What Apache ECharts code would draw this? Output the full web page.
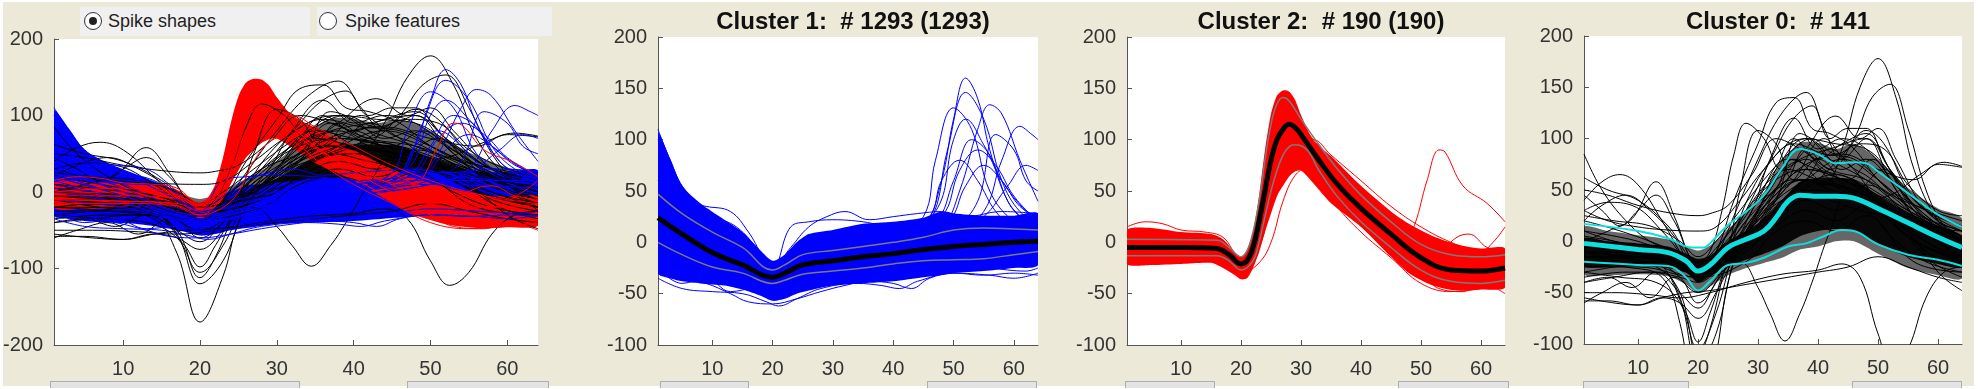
<!DOCTYPE html>
<html>
<head>
<meta charset="utf-8">
<title>Spike sorting clusters</title>
<script src="https://cdn.jsdelivr.net/npm/echarts@6/dist/echarts.min.js"></script>
<style>
  html, body { margin: 0; padding: 0; background: #fff; }
  #frame { position: absolute; left: 3px; top: 2px; width: 1971px; height: 384px; background: #ECE9D8; }
  #chart { position: absolute; left: 0; top: 0; width: 1979px; height: 389px; }
  .radio { position: absolute; top: 7px; height: 29px; background: #F0F0F0; z-index: 2;
           font: 18px "Liberation Sans", Arial, sans-serif; color: #1e1e1e; line-height: 29px; }
  .radio .ring { position: absolute; top: 5px; width: 18px; height: 18px; border-radius: 50%;
                 border: 1px solid #333; background: #fff; box-sizing: border-box; }
  .radio .ring.on::after { content: ''; position: absolute; left: 4px; top: 4px; width: 8px; height: 8px;
                           border-radius: 50%; background: #222; }
  .radio span.txt { position: absolute; top: 0; }
  .bar { position: absolute; top: 381px; height: 6px; background: #E4E4E4; border: 1px solid #ADADAD;
         border-bottom: none; z-index: 2; }
</style>
</head>
<body>
<div id="frame"></div>
<div id="chart"></div>

<div class="radio" style="left:80px;width:230px"><div class="ring on" style="left:4px"></div><span class="txt" style="left:28px">Spike shapes</span></div>
<div class="radio" style="left:317px;width:235px"><div class="ring" style="left:2px"></div><span class="txt" style="left:28px">Spike features</span></div>

<div class="bar" style="left:50px;width:248px"></div>
<div class="bar" style="left:407px;width:140px"></div>
<div class="bar" style="left:660px;width:87px"></div>
<div class="bar" style="left:927px;width:108px"></div>
<div class="bar" style="left:1125px;width:88px"></div>
<div class="bar" style="left:1398px;width:109px"></div>
<div class="bar" style="left:1583px;width:104px"></div>
<div class="bar" style="left:1852px;width:108px"></div>

<script>
// ---- data (sample index, amplitude) ----
const sampleTicks = [10, 20, 30, 40, 50, 60];
const panelTitles = ['', 'Cluster 1:  # 1293 (1293)', 'Cluster 2:  # 190 (190)', 'Cluster 0:  # 141'];

// cluster 1 (blue): dense core envelope
const band1X  = [1, 3, 5, 8, 12, 15, 18, 20, 22, 24, 26, 30, 35, 40, 45, 48, 50, 55, 60, 64];
const band1Hi = [106, 82, 55, 38, 22, 10, -8, -18, -12, 0, 8, 12, 18, 20, 24, 30, 28, 26, 26, 28];
const band1Lo = [-30, -35, -38, -40, -42, -46, -52, -57, -55, -50, -47, -42, -40, -38, -34, -32, -30, -28, -25, -22];
const c1Mean  = [[1,24],[5,8],[10,-10],[15,-22],[20,-34],[22,-30],[25,-22],[30,-18],[35,-14],[40,-11],[45,-7],[50,-4],[55,-2],[60,0],[64,1]];
const c1StdHi = [[1,47],[5,28],[10,10],[15,-5],[20,-27],[22,-22],[25,-12],[30,-8],[35,-4],[40,0],[45,5],[50,12],[55,14],[60,13],[64,12]];
const c1StdLo = [[1,0],[5,-12],[10,-24],[15,-30],[20,-40],[22,-37],[25,-31],[30,-28],[35,-25],[40,-21],[45,-18],[50,-17],[55,-16],[60,-12],[64,-9]];
const c1Spikes = [
  [[1,30],[10,0],[20,-30],[30,-10],[40,5],[45,15],[48,60],[50,120],[52,160],[54,140],[56,90],[59,40],[62,20],[64,15]],
  [[1,20],[10,-5],[20,-35],[30,-15],[40,0],[46,20],[49,90],[52,146],[55,120],[58,60],[61,30],[64,20]],
  [[1,40],[10,5],[20,-30],[30,-12],[40,8],[45,25],[47,80],[50,131],[53,110],[56,50],[60,20],[64,10]],
  [[1,10],[10,-10],[20,-38],[30,-20],[40,-5],[48,15],[51,50],[54,110],[56,134],[58,125],[61,80],[64,40]],
  [[1,0],[10,-15],[20,-40],[30,-20],[40,-5],[50,10],[55,30],[58,80],[61,113],[63,105],[64,100]],
  [[1,25],[10,-5],[20,-32],[30,-15],[40,5],[47,20],[50,60],[53,100],[56,85],[59,40],[62,20],[64,10]],
  [[1,15],[10,-10],[20,-35],[30,-15],[40,0],[48,25],[51,70],[54,90],[57,75],[60,45],[64,20]],
  [[1,35],[10,0],[20,-30],[30,-10],[40,5],[46,25],[48,60],[51,80],[54,60],[57,30],[60,15],[64,10]],
  [[1,5],[10,-15],[20,-38],[30,-18],[40,0],[50,15],[54,40],[57,105],[60,90],[62,60],[64,50]],
  [[1,20],[10,-5],[20,-35],[30,-15],[40,0],[49,20],[52,55],[55,75],[58,60],[61,35],[64,25]],
  [[1,-10],[10,-20],[20,-40],[30,-20],[40,-5],[50,10],[55,25],[59,55],[62,75],[64,70]],
  [[1,45],[10,10],[20,-25],[30,-5],[40,10],[47,30],[50,100],[52,120],[55,95],[58,60],[62,30],[64,20]],
  [[1,60],[5,40],[9,35],[13,30],[16,10],[20,-25],[23,15],[26,20],[30,22],[35,20],[40,15],[50,20],[64,10]],
  [[1,-30],[5,-35],[9,-40],[13,-50],[16,-58],[20,-60],[24,-55],[28,-48],[32,-42],[36,-38],[40,-40],[43,-45],[46,-35],[50,-30],[55,-32],[60,-30],[64,-32]],
  [[1,-25],[5,-40],[9,-35],[13,-48],[17,-45],[20,-50],[24,-48],[30,-38],[38,-35],[44,-30],[50,-22],[56,-25],[62,-28],[64,-25]],
  [[1,110],[3,80],[5,55],[8,35],[12,15],[16,-5],[20,-25],[25,-10],[30,0],[40,10],[50,15],[64,15]],
  [[1,100],[3,75],[6,45],[10,25],[14,5],[18,-15],[20,-28],[25,-15],[30,-5],[40,5],[50,10],[64,5]],
  [[1,50],[6,35],[10,25],[14,15],[18,-10],[20,-25],[23,-5],[26,15],[29,25],[32,30],[36,22],[40,25],[44,28],[48,30],[52,25],[58,30],[64,28]],
  [[1,-35],[5,-45],[10,-48],[15,-50],[19,-58],[21,-62],[24,-55],[28,-45],[34,-40],[38,-42],[41,-45],[44,-38],[50,-30],[56,-32],[60,-35],[64,-30]]
];

// cluster 2 (red)
const band2X  = [1, 5, 10, 15, 17, 19, 20, 21, 22, 23, 24, 25, 26, 27, 28, 29, 30, 32, 35, 40, 45, 48, 52, 56, 60, 64];
const band2Hi = [12, 14, 10, 8, 3, -10, -14, -8, 10, 45, 90, 125, 143, 148, 147, 139, 124, 100, 84, 55, 30, 18, 6, -2, -6, -6];
const band2Lo = [-21, -22, -21, -20, -25, -32, -36, -35, -25, -10, 10, 28, 45, 55, 64, 69, 70, 58, 38, 15, -14, -30, -42, -47, -46, -44];
const c2Mean  = [[1,-5],[10,-5],[16,-6],[18,-12],[20,-21],[21,-18],[22,-5],[23,20],[24,50],[25,80],[26,100],[27,110],[28,115],[29,112],[30,105],[33,80],[36,57],[40,33],[45,8],[50,-15],[55,-27],[60,-28],[64,-25]];
const c2StdHi = [[1,3],[16,2],[18,-5],[20,-14],[21,-8],[22,10],[23,40],[24,80],[25,115],[26,135],[27,141],[28,138],[30,120],[33,95],[36,72],[40,46],[45,20],[50,-2],[55,-12],[60,-14],[64,-12]];
const c2StdLo = [[1,-13],[16,-13],[18,-18],[20,-27],[22,-18],[23,0],[24,25],[25,50],[26,70],[27,85],[28,93],[29,95],[31,90],[33,70],[36,45],[40,20],[45,-5],[50,-27],[55,-38],[60,-40],[64,-37]];
const c2Spikes = [
  [[1,-5],[10,-5],[17,-8],[20,-20],[22,0],[24,50],[26,95],[28,110],[30,100],[35,60],[40,30],[45,12],[48,10],[49,18],[51,60],[53,90],[54,88],[57,55],[61,38],[64,20]],
  [[1,-15],[10,-15],[17,-18],[20,-30],[23,-5],[25,40],[27,90],[29,105],[32,85],[36,50],[40,20],[45,-10],[50,-30],[53,-45],[57,-48],[60,-40],[64,-50]],
  [[1,15],[4,20],[7,18],[10,12],[14,10],[17,5],[20,-15],[22,-5],[24,60],[26,120],[28,130],[30,115],[35,80],[40,50],[45,25],[50,0],[55,-15],[60,-20],[64,-15]],
  [[1,-10],[10,-12],[17,-15],[20,-25],[23,5],[25,60],[27,105],[29,100],[33,70],[38,40],[45,0],[50,-15],[53,-10],[56,5],[58,8],[61,-5],[64,-10]],
  [[1,-2],[10,0],[17,-5],[20,-22],[23,15],[25,70],[27,115],[29,110],[33,80],[40,35],[46,5],[52,-20],[58,-20],[62,0],[64,15]],
  [[1,-10],[10,-12],[16,-15],[20,-30],[23,-20],[25,0],[27,40],[29,65],[31,72],[33,60],[36,35],[40,10],[45,-15],[50,-40],[55,-48],[60,-45],[64,-40]],
  [[1,0],[10,5],[16,0],[20,-15],[23,10],[25,50],[27,80],[30,95],[32,100],[35,85],[40,60],[45,35],[50,15],[55,0],[60,-10],[64,-15]]
];

// cluster 0 (black, unassigned): solid core and a looser halo
const band0X  = [1, 5, 10, 15, 18, 20, 22, 25, 28, 31, 34, 37, 40, 43, 46, 50, 55, 60, 64];
const band0Hi = [3, 0, -2, -5, -12, -17, -14, 0, 10, 22, 40, 58, 62, 62, 60, 45, 28, 15, 5];
const band0Lo = [-24, -25, -24, -26, -30, -40, -34, -24, -18, -12, -5, 5, 10, 12, 10, -2, -15, -22, -25];
const halo0Hi = [14, 10, 6, 2, -5, -9, -4, 12, 28, 48, 78, 96, 96, 90, 95, 80, 52, 32, 22];
const halo0Lo = [-32, -33, -32, -34, -42, -50, -44, -33, -26, -21, -16, -8, -5, 0, 0, -12, -26, -33, -36];
const c0Mean  = [[1,-2],[10,-8],[15,-11],[18,-19],[20,-29],[22,-23],[25,-6],[28,2],[31,10],[33,23],[35,39],[37,45],[40,44],[43,44],[46,42],[50,32],[55,18],[60,4],[64,-6]];
const c0StdHi = [[1,17],[10,10],[15,3],[19,-6],[21,-6],[22,-2],[25,16],[28,29],[31,45],[34,71],[37,90],[40,85],[43,76],[46,77],[48,76],[50,68],[55,47],[60,26],[64,14]];
const c0StdLo = [[1,-20],[10,-23],[15,-24],[18,-35],[20,-48],[22,-39],[25,-23],[28,-21],[31,-16],[35,-5],[38,-2],[41,5],[44,11],[46,10],[50,-3],[55,-13],[60,-18],[64,-24]];
const c0Spikes = [
  [[1,10],[6,0],[12,-8],[17,-15],[20,-30],[23,-15],[28,0],[33,40],[37,60],[41,55],[44,90],[47,150],[50,178],[53,140],[56,70],[60,20],[64,0]],
  [[1,-5],[8,-10],[14,-12],[20,-30],[25,-5],[30,20],[35,60],[38,90],[42,70],[46,100],[49,140],[52,153],[55,110],[58,50],[61,15],[64,0]],
  [[1,30],[5,38],[9,35],[14,10],[18,-20],[20,-38],[23,-15],[26,25],[30,80],[34,125],[38,145],[41,110],[44,80],[48,100],[52,60],[57,20],[64,10]],
  [[1,0],[8,-8],[15,-12],[20,-30],[23,-10],[26,40],[30,95],[33,135],[36,140],[39,110],[42,105],[46,90],[50,60],[56,30],[64,5]],
  [[1,-10],[8,-14],[15,-18],[20,-35],[24,-10],[28,30],[33,90],[36,120],[39,132],[42,100],[45,110],[48,110],[51,80],[56,30],[64,-10]],
  [[1,20],[6,12],[12,0],[17,-12],[20,-20],[22,-10],[24,30],[26,85],[28,115],[31,100],[34,70],[38,80],[42,60],[48,40],[55,10],[64,-20]],
  [[1,-30],[6,-25],[12,-20],[17,-35],[20,-60],[23,-40],[25,-10],[27,50],[30,108],[33,95],[36,60],[40,80],[45,50],[50,30],[56,0],[64,-20]],
  [[1,-10],[8,-15],[15,-18],[20,-30],[26,-10],[30,0],[35,40],[40,60],[45,90],[48,108],[51,95],[55,50],[60,20],[64,10]],
  [[1,-40],[6,-35],[12,-30],[17,-35],[20,-40],[24,-25],[27,-20],[30,-45],[32,-70],[34.5,-97],[37,-70],[39,-40],[42,10],[45,45],[48,40],[52,20],[56,0],[60,-10],[64,-20]],
  [[1,-50],[6,-50],[12,-52],[17,-55],[22,-50],[28,-40],[34,-32],[40,-28],[44,-22],[47,-35],[50,-90],[52.5,-122],[55,-105],[58,-55],[61,-30],[64,-25]],
  [[1,-20],[8,-25],[14,-35],[17,-80],[20,-170],[23,-110],[25,-40],[28,10],[32,40],[37,60],[42,50],[48,40],[54,10],[60,-10],[64,-15]],
  [[1,-30],[7,-35],[13,-40],[17,-60],[20,-105],[23,-70],[26,-10],[30,40],[35,80],[40,70],[46,60],[52,40],[58,20],[64,0]],
  [[1,-10],[7,-20],[13,-25],[17,-50],[20,-112],[22,-85],[25,-15],[29,50],[34,90],[38,100],[42,80],[48,60],[55,30],[64,10]],
  [[1,-55],[6,-60],[10,-62],[14,-55],[17,-60],[20,-75],[23,-50],[27,-5],[32,40],[38,60],[44,50],[50,20],[56,-20],[64,-30]],
  [[1,50],[5,45],[10,35],[15,28],[20,25],[22,27],[25,35],[29,65],[33,100],[37,90],[42,70],[48,60],[54,40],[64,20]],
  [[1,30],[5,20],[10,14],[15,11],[20,10],[23,14],[27,40],[31,70],[36,95],[41,85],[46,80],[52,50],[58,30],[64,15]],
  [[1,0],[5,10],[9,22],[13,58],[16,25],[19,-20],[21,-30],[24,0],[28,30],[33,60],[38,70],[44,60],[50,40],[56,20],[64,0]],
  [[1,40],[4,58],[7,65],[10,55],[14,20],[18,-20],[20,-35],[23,-20],[27,20],[32,60],[37,80],[42,90],[48,100],[52,70],[58,30],[64,10]],
  [[1,85],[4,50],[8,20],[12,0],[16,-10],[20,-30],[24,-5],[28,25],[33,70],[38,100],[43,95],[48,90],[53,60],[58,30],[64,15]],
  [[1,62],[5,50],[10,40],[15,15],[20,-20],[24,0],[28,30],[33,50],[38,75],[44,85],[50,70],[56,60],[60,75],[64,72]],
  [[1,-58],[5,-58],[10,-62],[14,-55],[18,-50],[22,-48],[28,-42],[34,-36],[40,-30],[45,-25],[50,-15],[55,-25],[60,-35],[64,-40]],
  [[1,-5],[10,-10],[20,-28],[28,10],[33,70],[36,100],[40,80],[44,95],[48,105],[52,70],[58,20],[64,-5]],
  [[1,-15],[10,-15],[20,-30],[28,0],[33,50],[37,90],[41,70],[45,60],[49,80],[53,50],[58,10],[64,-15]],
  [[1,0],[10,-8],[20,-25],[28,5],[34,40],[38,60],[42,90],[46,70],[50,40],[55,20],[64,-10]],
  [[1,-10],[10,-12],[20,-32],[28,15],[32,50],[36,80],[40,60],[44,40],[48,55],[52,45],[58,15],[64,-5]],
  [[1,5],[10,-5],[20,-25],[27,0],[31,30],[36,60],[41,100],[45,75],[49,60],[54,30],[60,0],[64,-20]],
  [[1,-20],[10,-20],[20,-30],[28,-10],[33,20],[38,40],[43,30],[47,50],[51,70],[55,40],[60,10],[64,-25]],
  [[1,10],[10,0],[20,-20],[28,20],[32,80],[36,120],[40,90],[44,100],[48,90],[53,55],[58,25],[64,0]],
  [[1,-25],[10,-25],[20,-35],[28,-20],[33,10],[38,20],[43,10],[48,25],[53,0],[58,-20],[64,-30]],
  [[1,-5],[10,-10],[20,-30],[28,5],[33,40],[37,105],[40,95],[44,70],[48,80],[52,60],[57,30],[64,0]],
  [[1,0],[10,-5],[20,-25],[28,10],[34,40],[40,50],[46,40],[52,45],[57,65],[61,77],[64,73]],
  [[1,-15],[10,-18],[20,-35],[28,-5],[33,30],[38,55],[43,65],[48,50],[54,20],[60,-30],[64,-48]],
  [[1,-5],[10,-10],[20,-30],[28,10],[34,60],[38,90],[43,122],[47,100],[50,110],[53,80],[58,30],[64,5]],
  [[1,45],[4,30],[7,15],[10,30],[13,45],[16,20],[20,-20],[24,-10],[28,20],[33,50],[38,70],[44,60],[50,45],[56,25],[64,5]],
  [[1,20],[4,35],[8,45],[12,30],[16,5],[20,-30],[24,-15],[28,10],[33,40],[38,60],[44,80],[50,60],[56,30],[64,0]],
  [[1,-40],[5,-35],[9,-45],[13,-30],[17,-50],[20,-65],[23,-40],[27,-10],[32,20],[37,50],[42,40],[47,30],[53,20],[58,-10],[64,-25]],
  [[1,-60],[4,-50],[8,-40],[12,-55],[16,-35],[20,-50],[24,-30],[28,-5],[33,15],[38,30],[43,20],[48,35],[54,10],[59,-20],[64,-35]],
  [[1,25],[6,20],[12,15],[17,0],[20,-15],[23,0],[27,30],[31,60],[35,85],[39,100],[43,85],[47,95],[51,90],[55,55],[60,30],[64,25]],
  [[1,-35],[8,-30],[14,-30],[17,-55],[20,-120],[23,-90],[26,-20],[30,30],[35,70],[40,60],[46,50],[52,30],[58,0],[64,-15]],
  [[1,-20],[7,-15],[13,-20],[18,-70],[20,-98],[22,-70],[25,-20],[30,30],[36,60],[42,55],[48,45],[54,20],[60,0],[64,-10]]
];

// ---- layout ----
const grids = [
  {left: 54,   top: 39, width: 484, height: 306},
  {left: 658,  top: 37, width: 380, height: 308},
  {left: 1127, top: 37, width: 378, height: 308},
  {left: 1584, top: 36, width: 378, height: 308}
];
const yRanges = [[-200, 200, 100], [-100, 200, 50], [-100, 200, 50], [-100, 200, 50]];

const FONT = '"Liberation Sans", Arial, sans-serif';
const SMOOTH = 0.4;
const series = [];

function add(s) {
  series.push(Object.assign({
    type: 'line', symbol: 'none', showSymbol: false, smooth: SMOOTH,
    silent: true, animation: false, emphasis: {disabled: true}
  }, s));
}
function traces(list, g, color, width) {
  list.forEach(p => add({xAxisIndex: g, yAxisIndex: g, data: p, lineStyle: {color: color, width: width}}));
}
// dense core of a cluster: filled region between two envelopes, placed by the axes
function band(xs, lo, hi, g, color, opacity) {
  series.push({
    type: 'custom', xAxisIndex: g, yAxisIndex: g, silent: true, animation: false,
    data: [0],
    renderItem: function (params, api) {
      const cs = params.coordSys;
      const top = xs.map((x, i) => api.coord([x, hi[i]]));
      const bottom = xs.map((x, i) => api.coord([x, lo[i]])).reverse();
      return {
        type: 'polygon',
        shape: {
          points: top.concat(bottom), smooth: 0.25,
          smoothConstraint: [[cs.x, cs.y], [cs.x + cs.width, cs.y + cs.height]]
        },
        style: {fill: color, opacity: opacity}
      };
    }
  });
}

// panel 1: all spikes
band(band0X, halo0Lo, halo0Hi, 0, '#000', 0.6);
band(band0X, band0Lo, band0Hi, 0, '#000', 0.92);
traces(c0Spikes, 0, '#000', 1);
band(band1X, band1Lo, band1Hi, 0, '#0000ff', 1);
traces(c1Spikes, 0, '#0000ff', 1);
band(band2X, band2Lo, band2Hi, 0, '#ff0000', 1);
traces(c2Spikes, 0, '#ff0000', 1);

// panel 2: cluster 1
band(band1X, band1Lo, band1Hi, 1, '#0000ff', 1);
traces(c1Spikes, 1, '#0000ff', 1);
traces([c1StdHi, c1StdLo], 1, '#7a7a7a', 1.5);
traces([c1Mean], 1, '#000', 5);

// panel 3: cluster 2
band(band2X, band2Lo, band2Hi, 2, '#ff0000', 1);
traces(c2Spikes, 2, '#ff0000', 1);
traces([c2StdHi, c2StdLo], 2, '#7a7a7a', 1.5);
traces([c2Mean], 2, '#000', 5);

// panel 4: cluster 0
band(band0X, halo0Lo, halo0Hi, 3, '#000', 0.6);
band(band0X, band0Lo, band0Hi, 3, '#000', 0.92);
traces(c0Spikes, 3, '#000', 1);
traces([c0StdHi, c0StdLo], 3, '#10dede', 2);
traces([c0Mean], 3, '#10dede', 5);

const axisColor = '#555';
const labelStyle = {color: '#333', fontSize: 20, fontFamily: FONT};

const chart = echarts.init(document.getElementById('chart'));
chart.setOption({
  animation: false,
  title: panelTitles.map((t, i) => ({
    show: t !== '',
    text: t,
    left: grids[i].left + grids[i].width / 2,
    top: 5,
    textAlign: 'center',
    textStyle: {fontSize: 24, fontWeight: 'bold', color: '#111', fontFamily: FONT}
  })),
  grid: grids.map(g => Object.assign({show: true, backgroundColor: '#fff', borderWidth: 0}, g)),
  xAxis: grids.map((g, i) => ({
    type: 'value', gridIndex: i, min: 1, max: 64,
    axisLine: {show: true, onZero: false, lineStyle: {color: axisColor, width: 1}},
    axisTick: {show: true, inside: true, length: 5, customValues: sampleTicks, lineStyle: {color: axisColor}},
    axisLabel: Object.assign({customValues: sampleTicks, margin: 14}, labelStyle),
    splitLine: {show: false}
  })),
  yAxis: yRanges.map((r, i) => ({
    type: 'value', gridIndex: i, min: r[0], max: r[1], interval: r[2],
    axisLine: {show: true, onZero: false, lineStyle: {color: axisColor, width: 1}},
    axisTick: {show: true, inside: true, length: 5, lineStyle: {color: axisColor}},
    axisLabel: Object.assign({margin: 11}, labelStyle),
    splitLine: {show: false}
  })),
  series: series
});
</script>
</body>
</html>
